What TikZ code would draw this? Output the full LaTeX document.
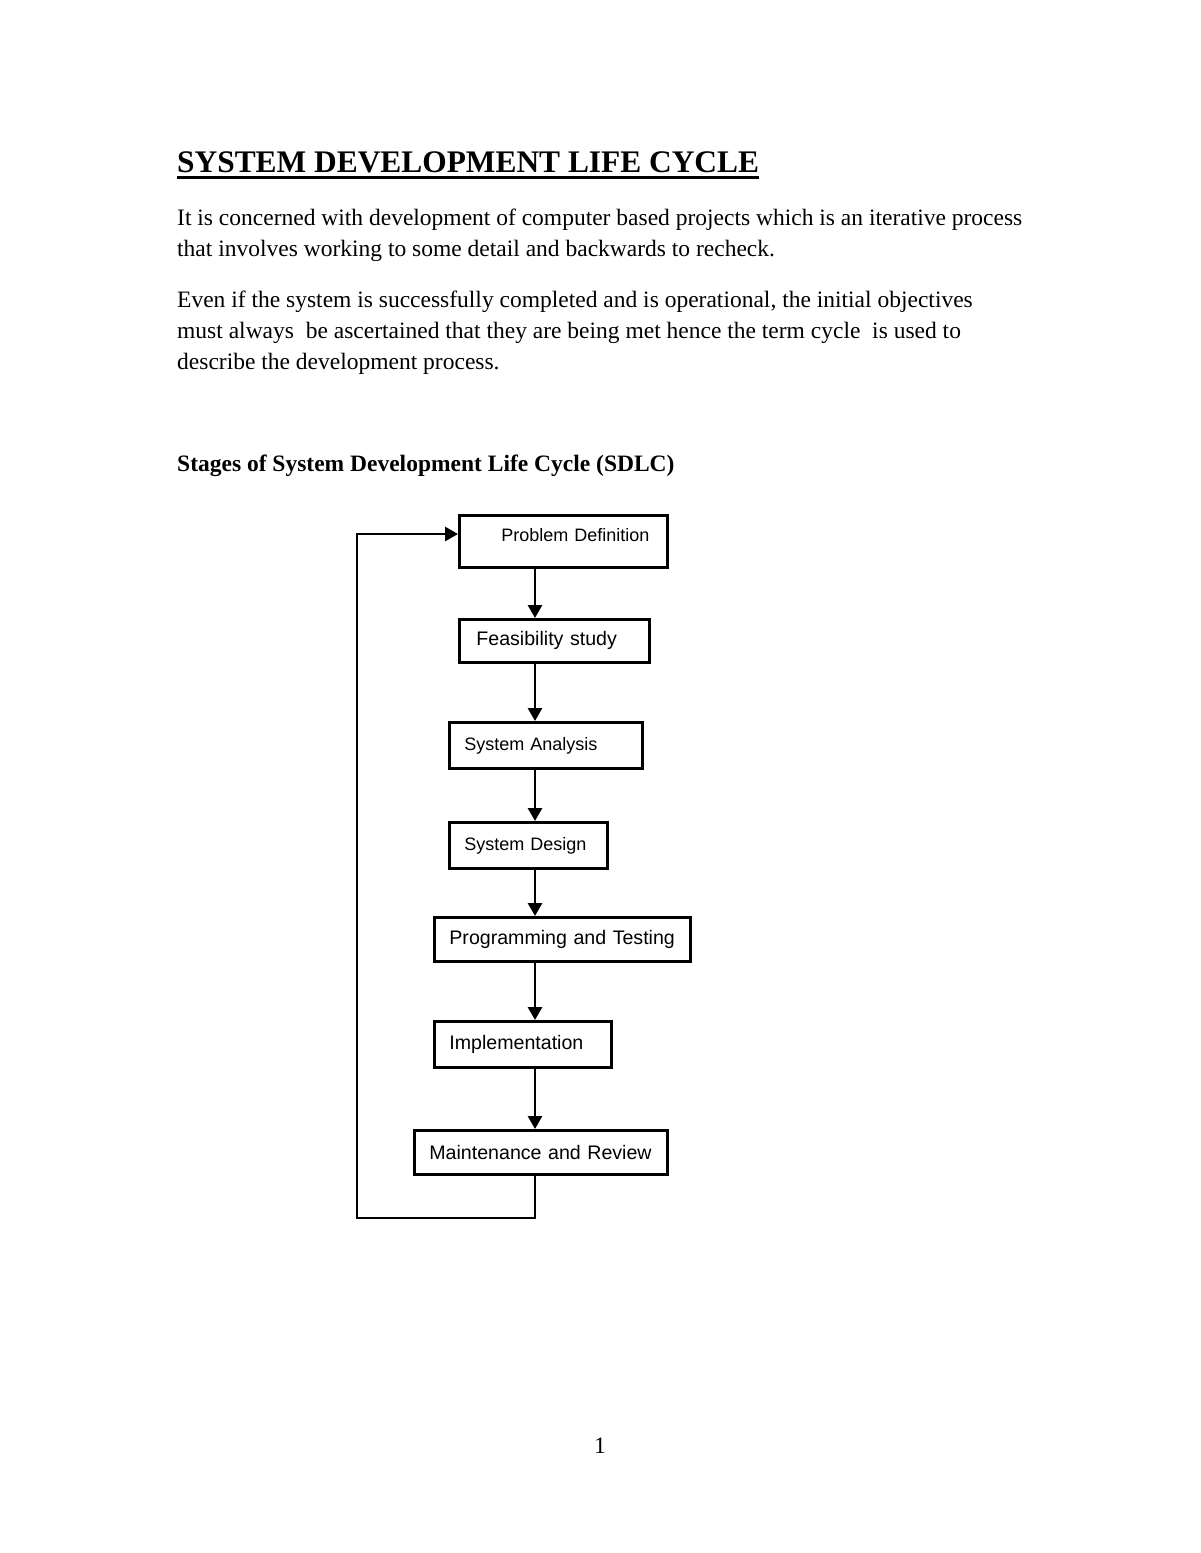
\documentclass[tikz,border=0pt]{standalone}
\usepackage{fontspec}
\setmainfont{Liberation Serif}
\newfontfamily\boxfont{Liberation Sans}
\usetikzlibrary{arrows.meta}
\tikzset{
  stage/.style={draw, line width=2.8pt, rectangle, inner xsep=0pt, inner ysep=0pt, align=left, font=\boxfont\fontsize{19.6}{22}\selectfont, anchor=north west},
  smallstage/.style={stage, font=\boxfont\fontsize{18}{20}\selectfont},
  flow/.style={line width=2.9pt, -{Triangle[length=13pt,width=14pt]}},
  bodytext/.style={anchor=base west, inner sep=0pt, font=\fontsize{23.5}{27}\selectfont},
}
\begin{document}
\begin{tikzpicture}[x=1pt,y=-1pt]
\useasboundingbox (0,0) rectangle (1200,1553);
\node[anchor=base west, inner sep=0pt, font=\bfseries\fontsize{31.4}{35}\selectfont] (title) at (177,172) {SYSTEM DEVELOPMENT LIFE CYCLE};
\draw[line width=3pt] (title.base west) ++(0,5) coordinate (ul1) -- (title.base east |- ul1);
\node[bodytext] (p1a) at (177,225) {It is concerned with development of computer based projects which is an iterative process};
\node[bodytext] (p1b) at (177,256) {that involves working to some detail and backwards to recheck.};
\node[bodytext] (p2a) at (177,307) {Even if the system is successfully completed and is operational, the initial objectives};
\node[bodytext] (p2b) at (177,338) {must always\ \ be ascertained that they are being met hence the term cycle\ \ is used to};
\node[bodytext] (p2c) at (177,369) {describe the development process.};
\node[bodytext, font=\bfseries\fontsize{23.5}{27}\selectfont] (stages) at (177,471) {Stages of System Development Life Cycle (SDLC)};

\node[smallstage, minimum width=208pt, minimum height=52pt, text width=208pt] (pd) at (458,514) {\hspace*{42pt}\raisebox{6pt}[\height][\depth]{Problem Definition}};
\node[stage, minimum width=190pt, minimum height=43pt, text width=190pt] (fs) at (458,618) {\hspace*{17pt}Feasibility study};
\node[smallstage, minimum width=193pt, minimum height=46pt, text width=193pt] (sa) at (448,721) {\hspace*{15pt}System Analysis};
\node[smallstage, minimum width=158pt, minimum height=46pt, text width=158pt] (sd) at (448,821) {\hspace*{15pt}System Design};
\node[stage, minimum width=256pt, minimum height=44pt, text width=256pt] (pt) at (433,916) {\hspace*{15pt}Programming and Testing};
\node[stage, minimum width=177pt, minimum height=46pt, text width=177pt] (im) at (433,1020) {\hspace*{15pt}Implementation};
\node[stage, minimum width=253pt, minimum height=44pt, text width=253pt] (mr) at (413,1129) {\hspace*{15pt}Maintenance and Review};

\coordinate (ax) at (535,0);
\draw[flow] (pd.south -| ax) -- (fs.north -| ax);
\draw[flow] (fs.south -| ax) -- (sa.north -| ax);
\draw[flow] (sa.south -| ax) -- (sd.north -| ax);
\draw[flow] (sd.south -| ax) -- (pt.north -| ax);
\draw[flow] (pt.south -| ax) -- (im.north -| ax);
\draw[flow] (im.south -| ax) -- (mr.north -| ax);
\coordinate (lb) at (357,1218);
\coordinate (lt) at (357,534);
\draw[flow, line cap=rect] (mr.south -| ax) -- (ax |- lb) -- (lb) -- (lt) -- (pd.west |- lt);

\node[anchor=base, inner sep=0pt, font=\fontsize{23.5}{27}\selectfont] (pg) at (600,1453) {1};
\end{tikzpicture}
\end{document}
